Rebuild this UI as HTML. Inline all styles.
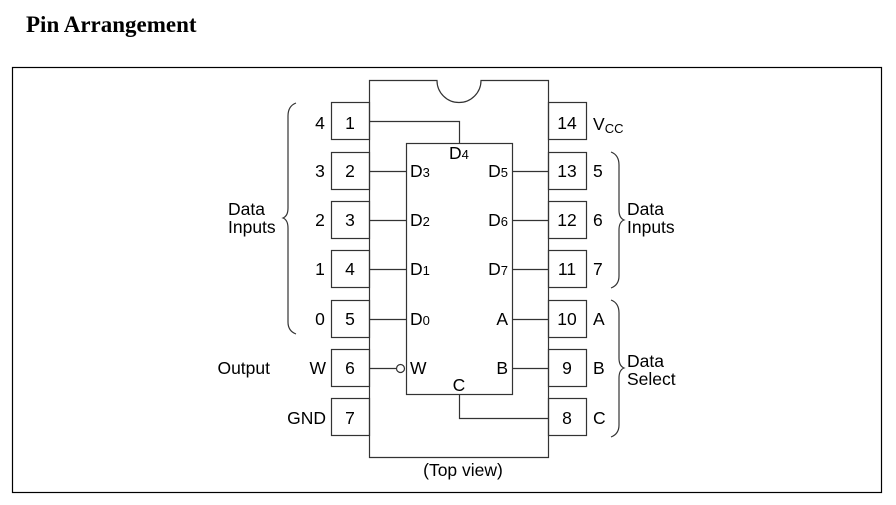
<!DOCTYPE html>
<html><head><style>body{margin:0;background:#fff}svg{display:block}</style></head><body>
<svg width="896" height="505" xmlns="http://www.w3.org/2000/svg" font-family="Liberation Sans, sans-serif" font-size="17.5" fill="#000">
<text x="26" y="32" font-family="Liberation Serif, serif" font-weight="bold" font-size="23">Pin Arrangement</text>
<rect x="12.5" y="67.5" width="869" height="425" fill="none" stroke="#000" stroke-width="1.2"/>
<g fill="none" stroke="#333" stroke-width="1.2">
<path d="M369.5 80.5 H437 A22 22 0 0 0 481 80.5 H548.5 V457.5 H369.5 Z"/>
<rect x="331.5" y="102.5" width="38" height="37"/>
<rect x="331.5" y="152.5" width="38" height="37"/>
<rect x="331.5" y="201.5" width="38" height="37"/>
<rect x="331.5" y="250.5" width="38" height="37"/>
<rect x="331.5" y="300.5" width="38" height="37"/>
<rect x="331.5" y="349.5" width="38" height="37"/>
<rect x="331.5" y="398.5" width="38" height="37"/>
<rect x="548.5" y="102.5" width="38" height="37"/>
<rect x="548.5" y="152.5" width="38" height="37"/>
<rect x="548.5" y="201.5" width="38" height="37"/>
<rect x="548.5" y="250.5" width="38" height="37"/>
<rect x="548.5" y="300.5" width="38" height="37"/>
<rect x="548.5" y="349.5" width="38" height="37"/>
<rect x="548.5" y="398.5" width="38" height="37"/>
<rect x="406.5" y="143.5" width="106" height="251"/>
<path d="M369.5 121.5 H459.5 V143.5"/>
<path d="M459.5 394.5 V418.5 H548.5"/>
<path d="M369.5 171.5 H406.5 M369.5 220.5 H406.5 M369.5 269.5 H406.5 M369.5 319.5 H406.5 M369.5 368.5 H396"/>
<circle cx="400.5" cy="368.5" r="4" fill="#fff"/>
<path d="M512.5 171.5 H548.5 M512.5 220.5 H548.5 M512.5 269.5 H548.5 M512.5 319.5 H548.5 M512.5 368.5 H548.5"/>
<path d="M296 103 Q288 106 288 116 V208 Q288 216 283 218 Q288 220 288 228 V322 Q288 331 296 334"/>
<path d="M611 152 Q619 155 619 165 V210 Q619 218 624 220 Q619 222 619 230 V276 Q619 285 611 288"/>
<path d="M611 300 Q619 303 619 313 V358 Q619 366 624 368 Q619 370 619 378 V425 Q619 434 611 437"/>
</g>
<g text-anchor="middle">
<text x="350" y="129">1</text><text x="350" y="177">2</text><text x="350" y="226">3</text><text x="350" y="275">4</text><text x="350" y="325">5</text><text x="350" y="374">6</text><text x="350" y="424">7</text>
<text x="567" y="129">14</text><text x="567" y="177">13</text><text x="567" y="226">12</text><text x="567" y="275">11</text><text x="567" y="325">10</text><text x="567" y="374">9</text><text x="567" y="424">8</text>
<text x="320" y="129">4</text><text x="320" y="177">3</text><text x="320" y="226">2</text><text x="320" y="275">1</text><text x="320" y="325">0</text>
<text x="463" y="476">(Top view)</text>
<text x="459" y="391">C</text>
</g>
<text x="326" y="374" text-anchor="end">W</text>
<text x="326" y="424" text-anchor="end">GND</text>
<text x="270" y="374" text-anchor="end">Output</text>
<text x="228" y="215">Data</text><text x="228" y="233">Inputs</text>
<text x="627" y="215">Data</text><text x="627" y="233">Inputs</text>
<text x="627" y="367">Data</text><text x="627" y="385">Select</text>
<text x="593" y="130">V<tspan font-size="13" dy="3">CC</tspan></text>
<text x="593" y="177">5</text><text x="593" y="226">6</text><text x="593" y="275">7</text><text x="593" y="325">A</text><text x="593" y="374">B</text><text x="593" y="424">C</text>
<text x="449" y="159">D<tspan font-size="13">4</tspan></text>
<text x="410" y="177">D<tspan font-size="13">3</tspan></text>
<text x="410" y="226">D<tspan font-size="13">2</tspan></text>
<text x="410" y="275">D<tspan font-size="13">1</tspan></text>
<text x="410" y="325">D<tspan font-size="13">0</tspan></text>
<text x="410" y="374">W</text>
<g text-anchor="end">
<text x="508" y="177">D<tspan font-size="13">5</tspan></text>
<text x="508" y="226">D<tspan font-size="13">6</tspan></text>
<text x="508" y="275">D<tspan font-size="13">7</tspan></text>
<text x="508" y="325">A</text>
<text x="508" y="374">B</text>
</g>
</svg>
</body></html>
